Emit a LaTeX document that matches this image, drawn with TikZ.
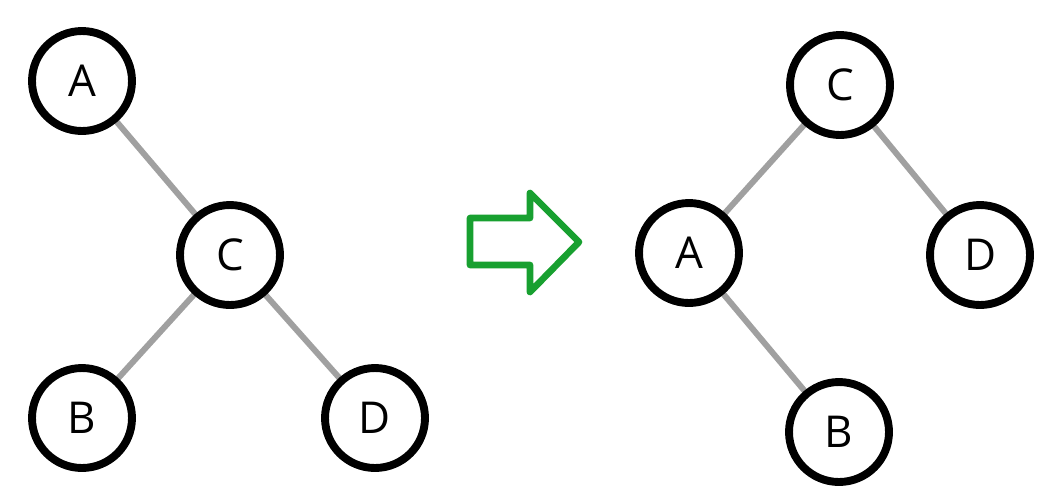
\documentclass[tikz,border=0pt]{standalone}
\usepackage{fontspec}
\setmainfont{Open Sans}
\usepackage{xcolor}
\usetikzlibrary{backgrounds}

\definecolor{arrowgreen}{RGB}{24,160,48}
\definecolor{edgegray}{RGB}{160,160,160}

\begin{document}
\begin{tikzpicture}[x=0.02cm,y=-0.02cm,
  vert/.style={circle, draw=black, line width=4.5pt, fill=white,
    minimum size=2cm, inner sep=0pt, font=\fontsize{25}{29}\selectfont},
  edge/.style={edgegray, line width=3.4pt}]

\useasboundingbox (0,0) rectangle (1050,498);

% tree before the rotation
\node[vert] (lA) at (82,81)   {A};
\node[vert] (lC) at (230,255) {C};
\node[vert] (lB) at (82,418)  {B};
\node[vert] (lD) at (375,418) {D};

% tree after the rotation
\node[vert] (rC) at (840,85)  {C};
\node[vert] (rA) at (689,253) {A};
\node[vert] (rD) at (980,255) {D};
\node[vert] (rB) at (839,432) {B};

% edges, behind the circles
\begin{scope}[on background layer]
\draw[edge] (lA.center) -- (lC.center);
\draw[edge] (lC.center) -- (lB.center);
\draw[edge] (lC.center) -- (lD.center);
\draw[edge] (rC.center) -- (rA.center);
\draw[edge] (rC.center) -- (rD.center);
\draw[edge] (rA.center) -- (rB.center);
\end{scope}

% hollow arrow between the trees
\draw[arrowgreen, line width=3.8pt, line join=round]
  (470,218) -- (530,218) -- (530,193) -- (579,242)
  -- (530,292) -- (530,265) -- (470,265) -- cycle;

\end{tikzpicture}
\end{document}
